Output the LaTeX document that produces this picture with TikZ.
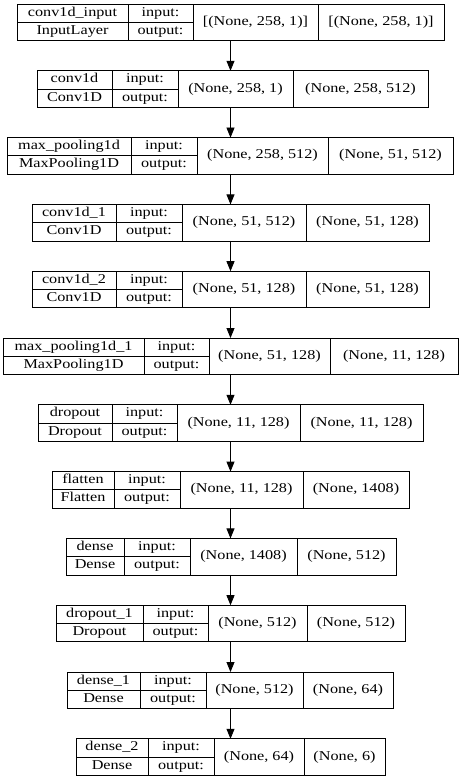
\documentclass[tikz,border=0pt]{standalone}
\usepackage{fontspec}
\setmainfont{Liberation Serif}[FakeStretch=1.2]
\usetikzlibrary{arrows.meta}

\begin{document}
\begin{tikzpicture}[x=1pt,y=-1pt,font=\fontsize{13.5}{16}\selectfont,
 cell/.style={draw=black,line width=0.8pt,inner sep=0pt,outer sep=0pt,anchor=north west,text height=9pt,text depth=3pt},
 flow/.style={-{Triangle[length=10pt,width=8pt]},line width=0.8pt,draw=black}]
 \useasboundingbox (0,0) rectangle (461,781);
 % one row per layer: x of left edge, the three inner rules, right edge
 \foreach \k/\xa/\xb/\xc/\xd/\xe/\nm/\ty/\shin/\shout in {
  1/17/128/193/318/444/conv1d\_input/InputLayer/{[(None, 258, 1)]}/{[(None, 258, 1)]},
  2/37/112/178/293/428/conv1d/Conv1D/{(None, 258, 1)}/{(None, 258, 512)},
  3/7/131/197/328/453/max\_pooling1d/MaxPooling1D/{(None, 258, 512)}/{(None, 51, 512)},
  4/32/116/182/306/429/conv1d\_1/Conv1D/{(None, 51, 512)}/{(None, 51, 128)},
  5/32/116/182/306/429/conv1d\_2/Conv1D/{(None, 51, 128)}/{(None, 51, 128)},
  6/3/144/209/330/458/max\_pooling1d\_1/MaxPooling1D/{(None, 51, 128)}/{(None, 11, 128)},
  7/38/112/177/300/423/dropout/Dropout/{(None, 11, 128)}/{(None, 11, 128)},
  8/52/114/180/303/409/flatten/Flatten/{(None, 11, 128)}/{(None, 1408)},
  9/66/124/190/297/396/dense/Dense/{(None, 1408)}/{(None, 512)},
  10/56/143/208/307/405/dropout\_1/Dropout/{(None, 512)}/{(None, 512)},
  11/67/140/206/303/393/dense\_1/Dense/{(None, 512)}/{(None, 64)},
  12/76/148/214/304/385/dense\_2/Dense/{(None, 64)}/{(None, 6)}}{
  \pgfmathsetmacro\y{4+(\k-1)*66.8}
  \node[cell,minimum width={(\xb-\xa)*1pt},minimum height=18.25pt] (n\k) at (\xa,\y) {\nm};
  \node[cell,minimum width={(\xb-\xa)*1pt},minimum height=18.25pt] (t\k) at (\xa,\y+18.25) {\ty};
  \node[cell,minimum width={(\xc-\xb)*1pt},minimum height=18.25pt] (il\k) at (\xb,\y) {input:};
  \node[cell,minimum width={(\xc-\xb)*1pt},minimum height=18.25pt] (ol\k) at (\xb,\y+18.25) {output:};
  \node[cell,minimum width={(\xd-\xc)*1pt},minimum height=36.5pt] (i\k) at (\xc,\y) {\shin};
  \node[cell,minimum width={(\xe-\xd)*1pt},minimum height=36.5pt] (o\k) at (\xd,\y) {\shout};
  \coordinate (top\k) at (230.5,\y);
  \coordinate (bot\k) at (230.5,\y+36.5);
 }
 \foreach \k [evaluate=\k as \j using int(\k+1)] in {1,...,11}
  \draw[flow] (bot\k) -- (top\j);
\end{tikzpicture}
\end{document}
